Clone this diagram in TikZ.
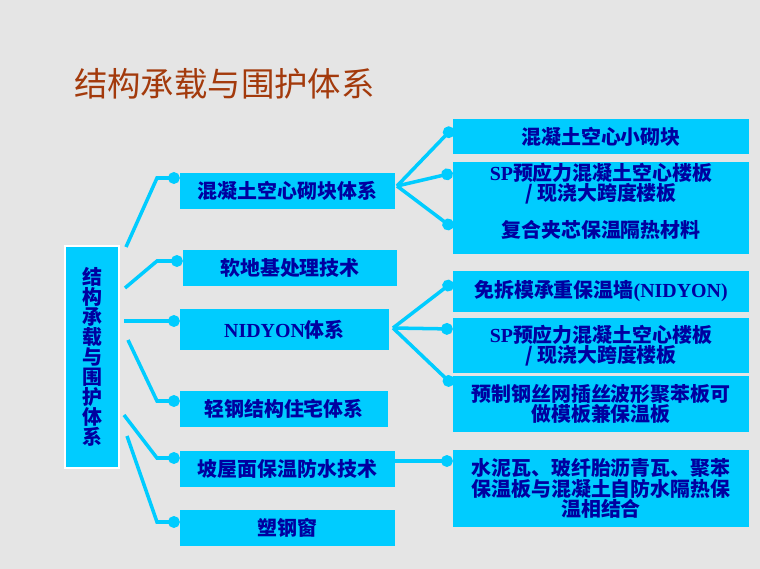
\documentclass[tikz,border=0pt]{standalone}
\usepackage{fontspec}
\setmainfont{Liberation Serif}
\newfontfamily\cjk{Noto Sans CJK SC}
\newfontfamily\rom{Liberation Serif}
\usetikzlibrary{calc,arrows.meta}
\definecolor{bgray}{RGB}{229,229,229}
\definecolor{boxcyan}{RGB}{0,204,255}
\definecolor{txtblue}{RGB}{0,0,160}
\definecolor{titlered}{RGB}{163,58,12}
\begin{document}
\begin{tikzpicture}[x=0.03cm, y=-0.03cm,
  box/.style={fill=boxcyan, inner sep=0pt, text=txtblue, align=center,
    font={\cjk\bfseries\fontsize{17}{17.5}\selectfont}},
  wh/.style 2 args={minimum width=#1*0.03cm, minimum height=#2*0.03cm},
  link/.style={draw=boxcyan, line width=3pt, -{Circle[length=10pt]}}]
  \fill[bgray] (0,0) rectangle (760,569);
  \node[anchor=west, text=titlered, font={\cjk\fontsize{28.5}{30}\selectfont}] (title) at (70,84) {结构承载与围护体系};
  \node[box, wh={54}{222}, draw=white, line width=1.2pt, font={\cjk\bfseries\fontsize{17}{17}\selectfont}] (root) at (92,357)
    {结\\构\\承\\载\\与\\围\\护\\体\\系};
  \node[box, wh={215}{36}] (m1) at (287.5,191) {混凝土空心砌块体系};
  \node[box, wh={214}{36}] (m2) at (290,268) {软地基处理技术};
  \node[box, wh={209}{41}] (m3) at (284.5,329.5) {{\rom\bfseries NIDYON}体系};
  \node[box, wh={208}{36}] (m4) at (284,409) {轻钢结构住宅体系};
  \node[box, wh={215}{36}] (m5) at (287.5,469) {坡屋面保温防水技术};
  \node[box, wh={215}{36}] (m6) at (287.5,528) {塑钢窗};
  \node[box, wh={296}{35}] (r1) at (601,136.5) {混凝土空心小砌块};
  \node[box, wh={296}{43}] (r2a) at (601,183.5) {{\rom\bfseries SP}预应力混凝土空心楼板\\/ 现浇大跨度楼板};
  \node[box, wh={296}{49}] (r2b) at (601,229.5) {复合夹芯保温隔热材料};
  \node[box, wh={296}{41}] (r3) at (601,291.5) {免拆模承重保温墙{\rom\bfseries (NIDYON)}};
  \node[box, wh={296}{55}] (r4) at (601,345.5) {{\rom\bfseries SP}预应力混凝土空心楼板\\/ 现浇大跨度楼板};
  \node[box, wh={296}{56}] (r5) at (601,404) {预制钢丝网插丝波形聚苯板可\\做模板兼保温板};
  \node[box, wh={296}{77}] (r6) at (601,488.5) {水泥瓦、玻纤胎沥青瓦、聚苯\\保温板与混凝土自防水隔热保\\温相结合};
  \coordinate (s1) at (126,247);
  \coordinate (s2) at (125,288);
  \coordinate (s3) at (124,321);
  \coordinate (s4) at (128,340);
  \coordinate (s5) at (124,415);
  \coordinate (s6) at (127,436);
  \coordinate (f1) at (397,186);
  \coordinate (f2) at (393,328);
  \draw[link] (s1) -- (157,178) -- ($(m1.west)+(0,-13)$);
  \draw[link] (s2) -- (157,261) -- ($(m2.west)+(0,-7)$);
  \draw[link] (s3) -- ($(m3.west)+(0,-8.5)$);
  \draw[link] (s4) -- (157,401) -- ($(m4.west)+(0,-8)$);
  \draw[link] (s5) -- (157,458) -- ($(m5.west)+(0,-11)$);
  \draw[link] (s6) -- (157,522) -- ($(m6.west)+(0,-6)$);
  \draw[link] (f1) -- ($(r1.west)+(0,-8.5)$);
  \draw[link] (f1) -- ($(r2a.west)+(0,-10.5)$);
  \draw[link] (f1) -- ($(r2b.west)+(0,-1.5)$);
  \draw[link] (f2) -- ($(r3.west)+(0,-9.5)$);
  \draw[link] (f2) -- ($(r4.west)+(0,-16.5)$);
  \draw[link] (f2) -- ($(r5.west)+(0,-19)$);
  \draw[link] ($(m5.east)+(0,-8)$) -- ($(r6.west)+(0,-27.5)$);
\end{tikzpicture}
\end{document}
